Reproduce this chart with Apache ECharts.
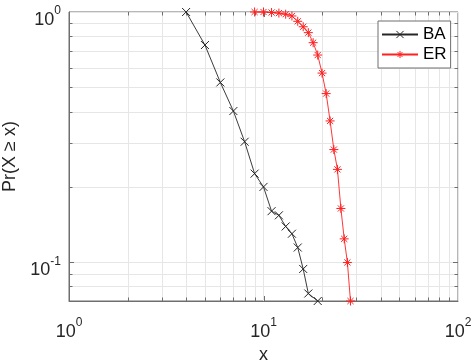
<!DOCTYPE html>
<html>
<head>
<meta charset="utf-8">
<script src="https://cdn.jsdelivr.net/npm/echarts@6/dist/echarts.min.js"></script>
<style>html,body{margin:0;padding:0;background:#fff}#c{width:474px;height:360px}</style>
</head>
<body>
<div id="c"></div>
<script>
// Data
var baX = [4, 5, 6, 7, 8, 9, 10, 11, 12, 13, 14, 15, 16, 17, 19];
var baY = [1, 0.738, 0.523, 0.402, 0.303, 0.226, 0.2, 0.16, 0.154, 0.139, 0.13, 0.1145, 0.094, 0.075, 0.07];
var erX = [9, 10, 11, 12, 13, 14, 15, 16, 17, 18, 19, 20, 21, 22, 23, 24, 25, 26, 27, 28];
var erY = [1, 1, 0.995, 0.99, 0.98, 0.964, 0.918, 0.873, 0.827, 0.754, 0.673, 0.57, 0.472, 0.367, 0.282, 0.235, 0.164, 0.124, 0.0998, 0.07];
var seriesNames = ['BA', 'ER'];
var xLimits = [1, 100];
var yLimits = [0.07, 1];
var xMinorTicks = [2, 3, 4, 5, 6, 7, 8, 9, 20, 30, 40, 50, 60, 70, 80, 90];
var yMinorTicks = [0.08, 0.09, 0.2, 0.3, 0.4, 0.5, 0.6, 0.7, 0.8, 0.9];
var xMajorTicks = [10];
var yMajorTicks = [0.1];

var FONT = "'Liberation Sans', Arial, sans-serif";
var AX = '#6e6e6e';
var GRID = '#e6e6e6';

function zip(a, b) { return a.map(function (v, i) { return [v, b[i]]; }); }
function powLabel(v) {
  var e = Math.log10(v);
  var r = Math.round(e);
  if (Math.abs(e - r) > 1e-6) return '';
  return '{b|10}{s|' + r + '}';
}
var rich = {
  b: { fontSize: 18, fontFamily: FONT, color: '#262626', lineHeight: 24, verticalAlign: 'bottom' },
  s: { fontSize: 12, fontFamily: FONT, color: '#262626', lineHeight: 12, verticalAlign: 'top' }
};

function tickRenderer(isX, major) {
  return function (params, api) {
    var cs = params.coordSys;
    var len = major ? 5 : 3.5;
    var children = [];
    if (isX) {
      var x = api.coord([api.value(0), yLimits[0]])[0];
      x = Math.round(x) + 0.5;
      if (!major) children.push({ type: 'line', shape: { x1: x, y1: cs.y, x2: x, y2: cs.y + cs.height }, style: { stroke: GRID, lineWidth: 1 } });
      children.push({ type: 'line', shape: { x1: x, y1: cs.y + cs.height, x2: x, y2: cs.y + cs.height - len }, style: { stroke: AX, lineWidth: 1 } });
      children.push({ type: 'line', shape: { x1: x, y1: cs.y, x2: x, y2: cs.y + len }, style: { stroke: AX, lineWidth: 1 } });
    } else {
      var y = api.coord([xLimits[0], api.value(1)])[1];
      y = Math.round(y) + 0.5;
      if (!major) children.push({ type: 'line', shape: { x1: cs.x, y1: y, x2: cs.x + cs.width, y2: y }, style: { stroke: GRID, lineWidth: 1 } });
      children.push({ type: 'line', shape: { x1: cs.x, y1: y, x2: cs.x + len, y2: y }, style: { stroke: AX, lineWidth: 1 } });
      children.push({ type: 'line', shape: { x1: cs.x + cs.width, y1: y, x2: cs.x + cs.width - len, y2: y }, style: { stroke: AX, lineWidth: 1 } });
    }
    return { type: 'group', children: children };
  };
}

var X_SYM = 'path://M0,0L10,10M10,0L0,10';
var STAR_SYM = 'path://M5,0L5,10M0,5L10,5M1.6,1.6L8.4,8.4M8.4,1.6L1.6,8.4';

var chart = echarts.init(document.getElementById('c'), null, { renderer: 'canvas' });
chart.setOption({
  animation: false,
  backgroundColor: '#ffffff',
  textStyle: { fontFamily: FONT },
  grid: { left: 69, right: 16, top: 12, bottom: 59, containLabel: false, outerBoundsMode: 'none',
          show: true, borderColor: AX, borderWidth: 1, backgroundColor: 'transparent' },
  xAxis: {
    type: 'log', logBase: 10, min: xLimits[0], max: xLimits[1],
    name: 'x', nameLocation: 'middle', nameGap: 44,
    nameTextStyle: { fontSize: 18, fontFamily: FONT, color: '#262626' },
    axisLine: { show: true, lineStyle: { color: AX } },
    axisTick: { show: false },
    splitLine: { show: true, lineStyle: { color: GRID } },
    axisLabel: { formatter: powLabel, rich: rich, margin: 16, showMinLabel: true, showMaxLabel: true }
  },
  yAxis: {
    type: 'log', logBase: 10, min: yLimits[0], max: yLimits[1],
    name: 'Pr(X \u2265 x)', nameLocation: 'middle', nameGap: 46,
    nameTextStyle: { fontSize: 18, fontFamily: FONT, color: '#262626' },
    axisLine: { show: true, lineStyle: { color: AX } },
    axisTick: { show: false },
    splitLine: { show: true, lineStyle: { color: GRID } },
    axisLabel: { formatter: powLabel, rich: rich, margin: 8, padding: [10, 0, 0, 0], showMinLabel: true, showMaxLabel: true }
  },
  legend: {
    data: seriesNames,
    orient: 'vertical', left: 378, top: 21,
    backgroundColor: '#ffffff', borderColor: AX, borderWidth: 1,
    padding: [5, 4, 5, 3], itemGap: 3, itemWidth: 36, itemHeight: 9,
    itemStyle: { borderWidth: 1 },
    textStyle: { fontSize: 17, fontFamily: FONT, color: '#000', padding: [0, 8, 0, 0] }
  },
  series: [
    { type: 'custom', z: 1, silent: true, coordinateSystem: 'cartesian2d', renderItem: tickRenderer(true, false),
      data: xMinorTicks.map(function (v) { return [v, yLimits[0]]; }), clip: false },
    { type: 'custom', z: 1, silent: true, coordinateSystem: 'cartesian2d', renderItem: tickRenderer(false, false),
      data: yMinorTicks.map(function (v) { return [xLimits[0], v]; }), clip: false },
    { type: 'custom', z: 1, silent: true, coordinateSystem: 'cartesian2d', renderItem: tickRenderer(true, true),
      data: xMajorTicks.map(function (v) { return [v, yLimits[0]]; }), clip: false },
    { type: 'custom', z: 1, silent: true, coordinateSystem: 'cartesian2d', renderItem: tickRenderer(false, true),
      data: yMajorTicks.map(function (v) { return [xLimits[0], v]; }), clip: false },
    {
      name: seriesNames[0], type: 'line', z: 3, clip: false,
      data: zip(baX, baY),
      symbol: X_SYM, symbolSize: 8,
      lineStyle: { color: '#262626', width: 0.9 },
      itemStyle: { color: 'rgba(0,0,0,0)', borderColor: '#262626', borderWidth: 1 }
    },
    {
      name: seriesNames[1], type: 'line', z: 3, clip: false,
      data: zip(erX, erY),
      symbol: STAR_SYM, symbolSize: 9,
      lineStyle: { color: '#ff2020', width: 0.9 },
      itemStyle: { color: 'rgba(0,0,0,0)', borderColor: '#ff2020', borderWidth: 1 }
    }
  ]
});
</script>
</body>
</html>
